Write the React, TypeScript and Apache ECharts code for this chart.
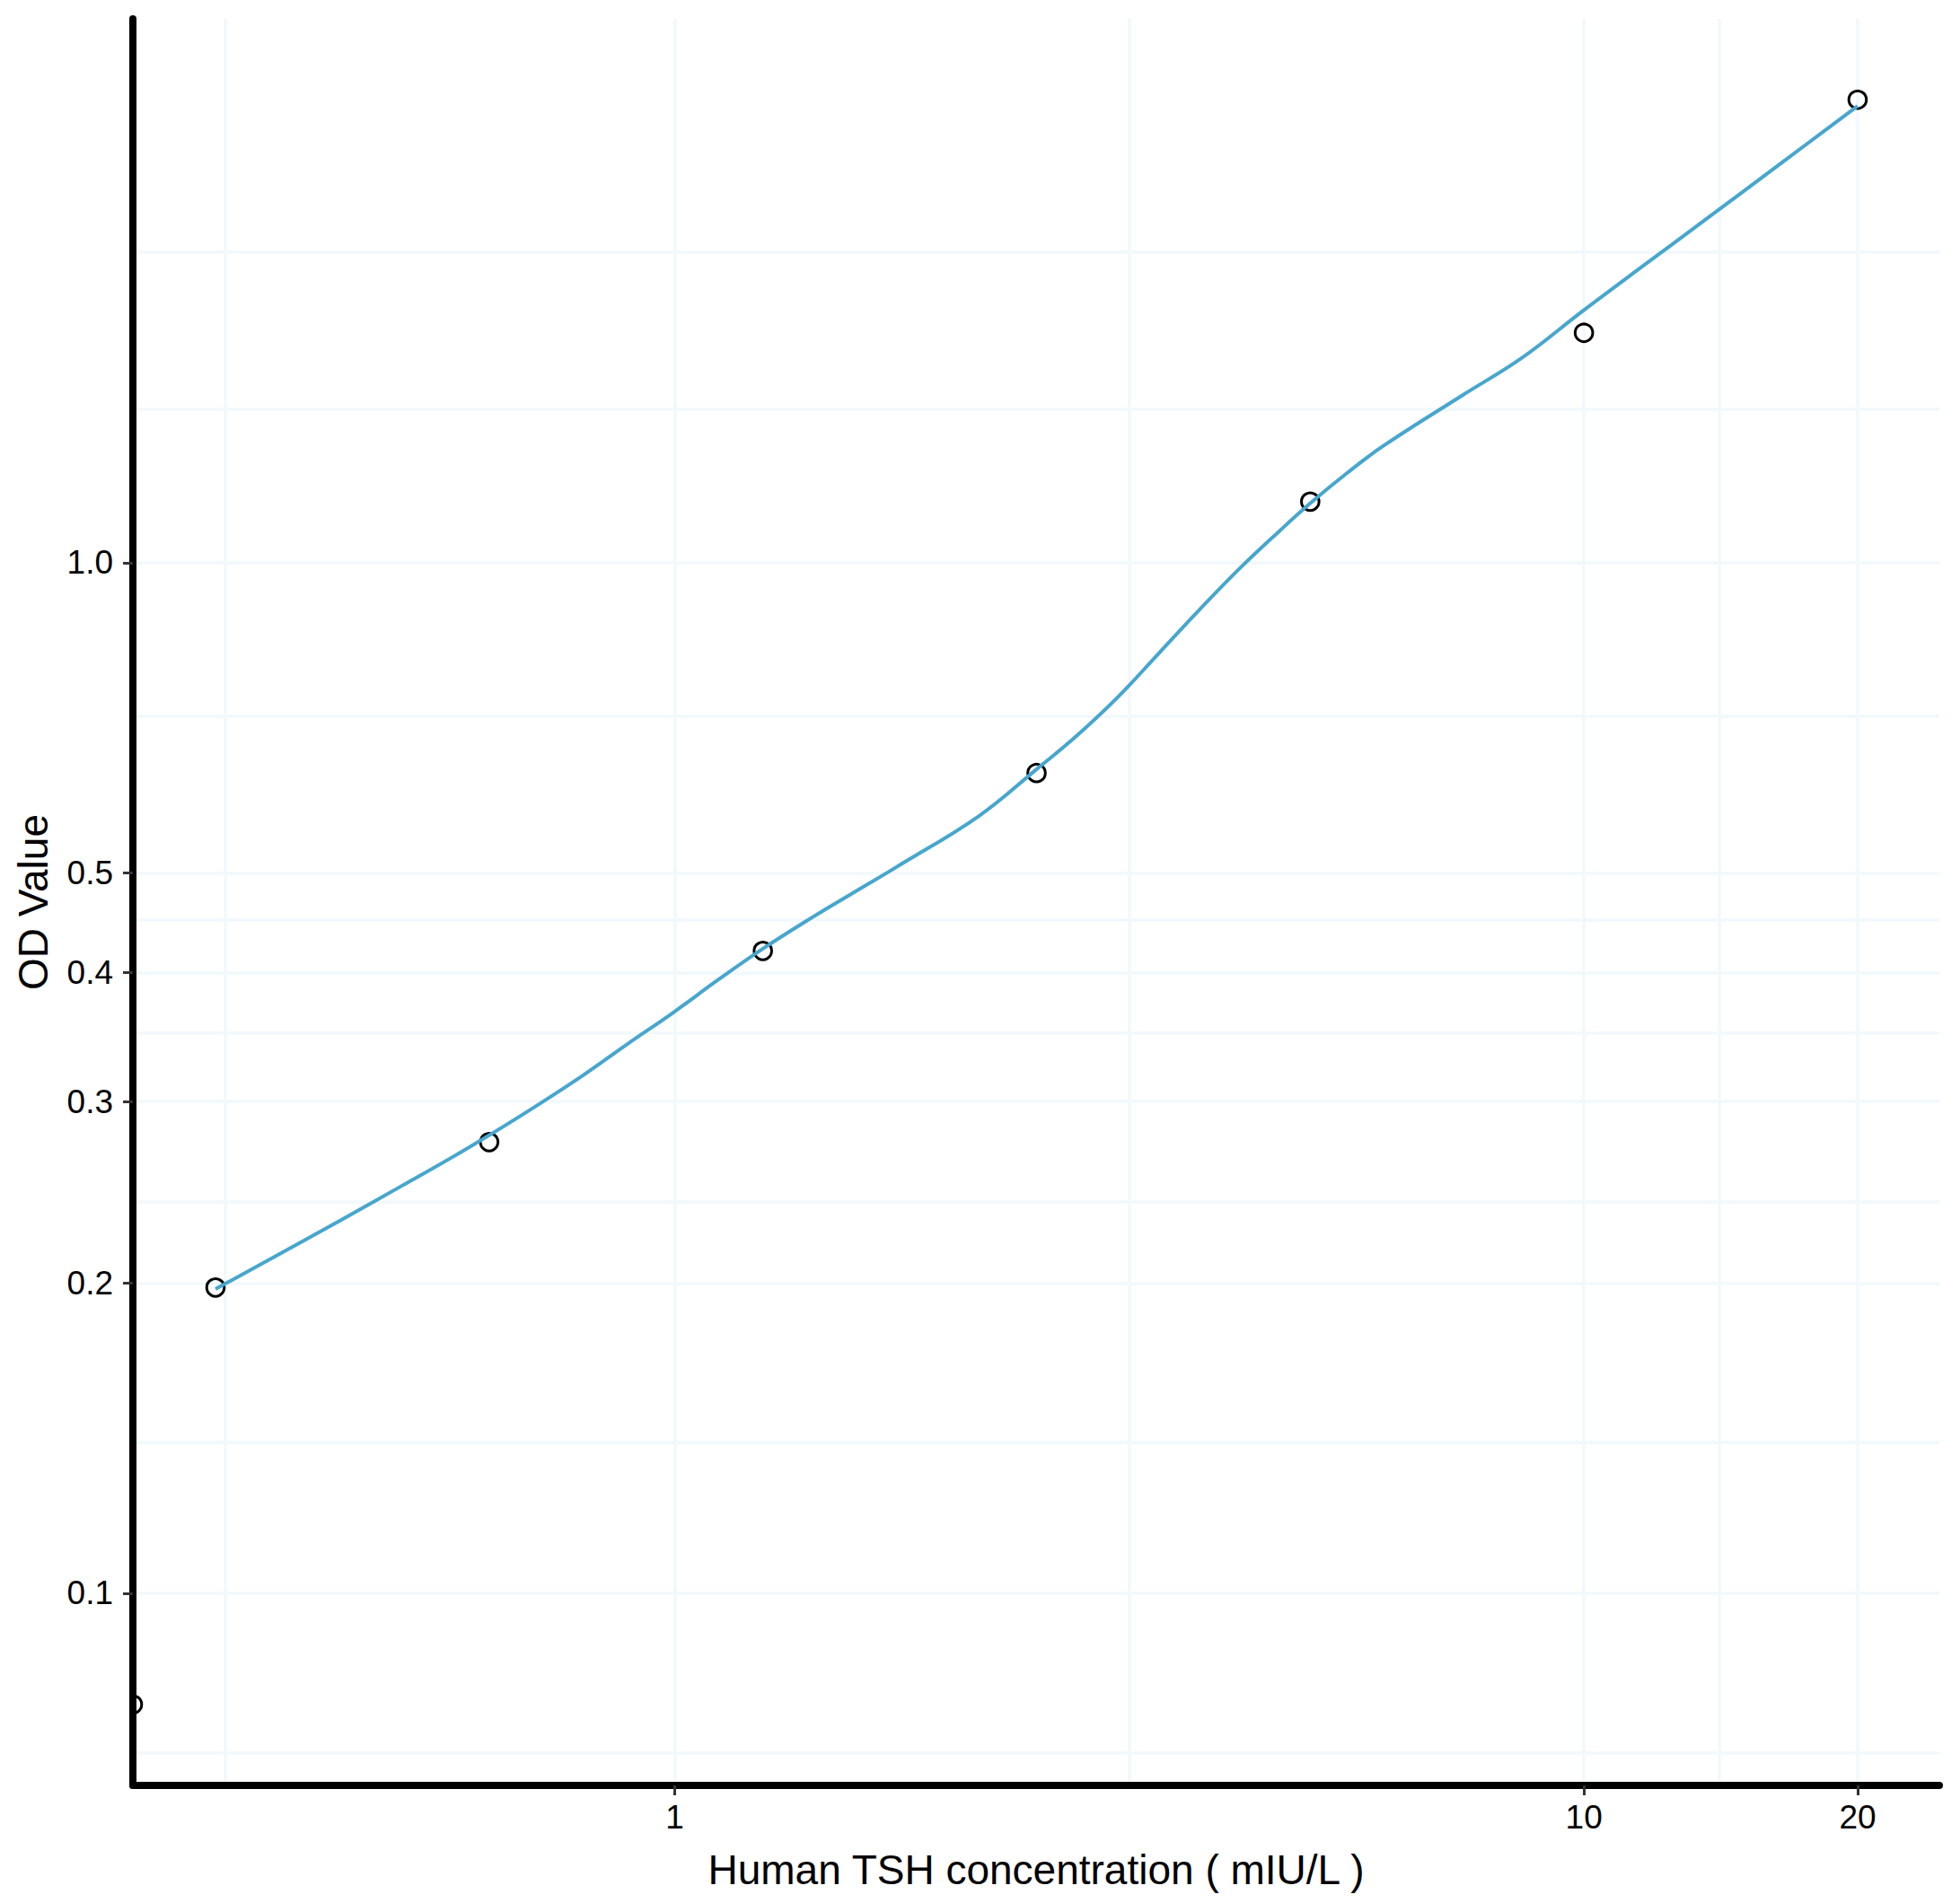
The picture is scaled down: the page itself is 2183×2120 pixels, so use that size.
import React, { useEffect, useRef } from "react";
import * as echarts from "echarts";

const CONCENTRATIONS = [0.3125, 0.625, 1.25, 2.5, 5, 10, 20];
const OD_VALUES = [0.198, 0.274, 0.42, 0.625, 1.146, 1.671, 2.813];
// Blank (0 mIU/L) cannot sit on a log axis: it is drawn at the left panel edge
const BLANK_OD = 0.078;

// Fitted curve
const CURVE_X = [0.3125, 0.4289, 0.4993, 0.5808, 0.6761, 0.787, 0.8884, 0.9954, 1.1154, 1.2479, 1.4003, 1.5692, 1.7586, 2.159, 2.496, 2.783, 3.08, 3.409, 3.774, 4.178, 4.624, 4.995, 5.484, 5.998, 7.348, 8.555, 9.965, 11.6, 13.51, 16.56, 20];
const CURVE_Y = [0.1973, 0.2301, 0.2481, 0.2677, 0.2904, 0.3167, 0.3415, 0.3658, 0.3936, 0.4217, 0.4499, 0.4778, 0.5074, 0.5675, 0.6295, 0.6823, 0.7424, 0.8171, 0.8995, 0.9863, 1.073, 1.141, 1.221, 1.2955, 1.453, 1.581, 1.754, 1.939, 2.142, 2.449, 2.774];

// Axis ticks and grid
const X_TICKS = [1, 10, 20];
const Y_TICKS = [0.1, 0.2, 0.3, 0.4, 0.5, 1.0];
const X_MINOR = [0.316, 3.16, 14.1];
const Y_MINOR = [2.0, 1.41, 0.707, 0.447, 0.346, 0.245, 0.141, 0.0707];
const X_RANGE = [0.2535, 24.6];
const Y_RANGE = [0.0651, 3.37];

const X_TITLE = "Human TSH concentration ( mIU/L )";
const Y_TITLE = "OD Value";

const FONT = "Liberation Sans, Arial, Helvetica, sans-serif";

export default function App() {
  const ref = useRef<HTMLDivElement>(null);

  useEffect(() => {
    document.body.style.margin = "0";
    document.body.style.overflow = "hidden";
    if (!ref.current) return;
    const chart = echarts.init(ref.current, null, { renderer: "svg" });

    const points = [
      [X_RANGE[0], BLANK_OD],
      ...CONCENTRATIONS.map((c, i) => [c, OD_VALUES[i]]),
    ];
    const curve = CURVE_X.map((x, i) => [x, CURVE_Y[i]]);
    const gridColor = "#F1F9FD";

    const axisCommon = {
      type: "log",
      logBase: 10,
      z: 10,
      nameLocation: "middle",
      nameTextStyle: { fontSize: 46, color: "#000", fontFamily: FONT },
      axisLine: { show: true, onZero: false, lineStyle: { color: "#000", width: 8 } },
      splitLine: { show: false },
      minorTick: { show: false },
      minorSplitLine: { show: false },
    };

    const option: any = {
      animation: false,
      backgroundColor: "#ffffff",
      textStyle: { fontFamily: FONT },
      grid: {
        left: 148,
        right: 23,
        top: 21,
        bottom: 131,
        containLabel: false,
        outerBoundsMode: "none",
      },
      xAxis: {
        ...axisCommon,
        min: X_RANGE[0],
        max: X_RANGE[1],
        name: X_TITLE,
        nameGap: 71,
        axisTick: {
          show: true,
          length: 11,
          customValues: X_TICKS,
          lineStyle: { color: "#333", width: 3 },
        },
        axisLabel: {
          show: true,
          customValues: X_TICKS,
          fontSize: 37,
          color: "#000",
          margin: 17,
          fontFamily: FONT,
          formatter: (v: number) => String(v),
        },
      },
      yAxis: {
        ...axisCommon,
        min: Y_RANGE[0],
        max: Y_RANGE[1],
        name: Y_TITLE,
        nameGap: 88,
        axisTick: {
          show: true,
          length: 11,
          customValues: Y_TICKS,
          lineStyle: { color: "#333", width: 3 },
        },
        axisLabel: {
          show: true,
          customValues: Y_TICKS,
          fontSize: 37,
          color: "#000",
          margin: 22,
          fontFamily: FONT,
          formatter: (v: number) => Number(v).toFixed(1),
        },
      },
      series: [
        {
          type: "line",
          data: [],
          silent: true,
          z: 0,
          markLine: {
            z: 0,
            silent: true,
            symbol: ["none", "none"],
            label: { show: false },
            emphasis: { disabled: true },
            lineStyle: { color: gridColor, width: 3.5, type: "solid" },
            data: [
              ...[...Y_TICKS, ...Y_MINOR].map((v) => ({ yAxis: v })),
              ...[...X_TICKS, ...X_MINOR].map((v) => ({ xAxis: v })),
            ],
          },
        },
        {
          type: "custom",
          clip: true,
          z: 2,
          silent: true,
          data: points,
          encode: { x: 0, y: 1 },
          renderItem: (params: any, api: any) => {
            const p = api.coord([api.value(0), api.value(1)]);
            return {
              type: "circle",
              shape: { cx: p[0], cy: p[1], r: 9.8 },
              style: { fill: "none", stroke: "#000", lineWidth: 3 },
            };
          },
        },
        {
          type: "line",
          z: 3,
          silent: true,
          data: curve,
          smooth: 0.4,
          showSymbol: false,
          symbol: "none",
          lineStyle: { color: "#47A6CD", width: 4 },
        },
      ],
    };

    chart.setOption(option);
    return () => chart.dispose();
  }, []);

  return <div ref={ref} style={{ width: 2183, height: 2120 }} />;
}
